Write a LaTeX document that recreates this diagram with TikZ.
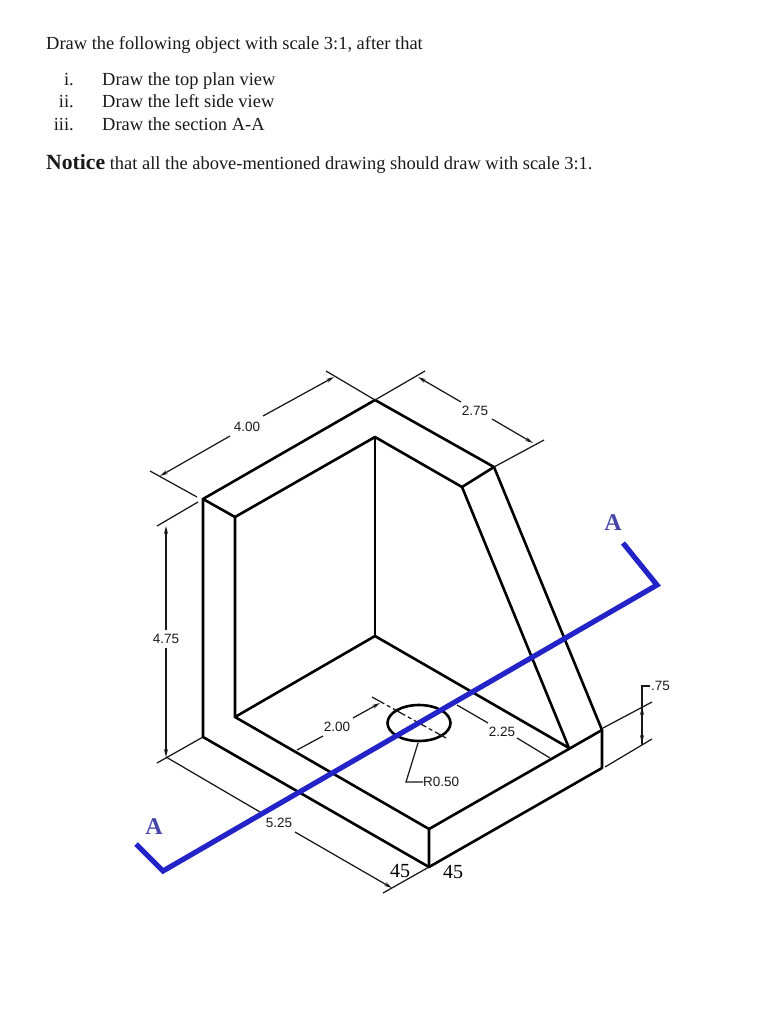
\documentclass[tikz,border=0pt]{standalone}
\usepackage{fontspec}
\setmainfont{Liberation Serif}
\setsansfont{Liberation Sans}
\usetikzlibrary{arrows.meta}
\tikzset{
 obj/.style={line width=2.6pt,black,line join=round,line cap=round},
 dimln/.style={line width=1.25pt,black!90},
 dimarr/.style={dimln,-{Stealth[length=8pt,width=4pt]}},
 dimtext/.style={font=\sffamily\fontsize{13.5}{15}\selectfont,inner sep=0pt,text=black!90},
 doc/.style={font=\fontsize{18.45}{22}\selectfont,anchor=base west,inner sep=0pt,text=black!90},
 cutline/.style={line width=5.2pt,color=cutblue,line join=miter},
 cutlabel/.style={font=\bfseries\fontsize{24}{26}\selectfont,text=cutlabelc,inner sep=0pt}
}
\definecolor{cutblue}{RGB}{35,35,200}
\definecolor{cutlabelc}{RGB}{70,70,170}
\begin{document}
\begin{tikzpicture}[x=1pt,y=-1pt]
\useasboundingbox (0,0) rectangle (779,1024);
% header text
\node[doc] (h1) at (46,50) {Draw the following object with scale 3:1, after that};
\node[doc,anchor=base east] (n1) at (74,85.5) {i.};
\node[doc] (t1) at (102,85.5) {Draw the top plan view};
\node[doc,anchor=base east] (n2) at (74,107.5) {ii.};
\node[doc] (t2) at (102,107.5) {Draw the left side view};
\node[doc,anchor=base east] (n3) at (74,130.5) {iii.};
\node[doc] (t3) at (102,130.5) {Draw the section A-A};
\node[doc] (h2) at (46,170) {\fontsize{21.7}{24}\selectfont\bfseries Notice\fontsize{18.45}{22}\selectfont\mdseries\ that all the above-mentioned drawing should draw with scale 3:1.};
% object points
\coordinate (T) at (375,400);
\coordinate (L) at (203,499);
\coordinate (R) at (494,467);
\coordinate (I) at (375,437);
\coordinate (IL) at (235,517);
\coordinate (IR) at (462,487);
\coordinate (B) at (375,636);
\coordinate (LB) at (203,737);
\coordinate (ILB) at (235,717);
\coordinate (FT) at (429,829);
\coordinate (FB) at (429,867);
\coordinate (RT) at (602,730);
\coordinate (RB) at (602,768);
\coordinate (F) at (569,748);
\draw[obj] (L)--(T)--(R)--(RT)--(RB)--(FB)--(LB)--cycle;
\draw[obj] (L)--(IL)--(I)--(IR)--(R);
\draw[obj] (IR)--(F);
\draw[obj] (I)--(B);
\draw[obj] (IL)--(ILB)--(FT)--(FB);
\draw[obj] (FT)--(RT);
\draw[obj] (ILB)--(B)--(F);
% hole
\draw[line width=2.6pt] (419,723) ellipse [x radius=31.5,y radius=18];
\draw[dimln,dash pattern=on 14pt off 3pt on 4pt off 3pt] (372,697)--(446,738);
% dimensions
\coordinate (e1) at (150,471); \coordinate (e2) at (197,497);
\draw[dimln] (e1)--(e2);
\draw[dimln] (326,371)--(T);
\draw[dimln] (T)--(425,371);
\draw[dimln] (R)--(544,440);
\draw[dimln] (198,502)--(157,526);
\draw[dimln] (LB)--(157,763);
\draw[dimln] (FB)--(383,893);
\draw[dimln] (603,728)--(652,702);
\draw[dimln] (605,767)--(652,739);
\node[dimtext] (d400) at (247,427) {4.00};
\draw[dimarr] (230,436)--(160,476);
\draw[dimarr] (263,416)--(334,377);
\node[dimtext] (d275) at (475,411) {2.75};
\draw[dimarr] (461,402)--(418,377);
\draw[dimarr] (492,419)--(533,443);
\node[dimtext] (d475) at (166,639) {4.75};
\draw[dimarr] (166,630)--(166,526);
\draw[dimarr] (166,648)--(166,757);
\node[dimtext] (d525) at (279,823) {5.25};
\draw[dimln] (166,757)--(260,812);
\draw[dimarr] (295,832)--(392,888);
\node[dimtext] (d200) at (337,727) {2.00};
\draw[dimln] (297,750)--(323,736);
\draw[dimarr] (353,718)--(380,703);
\node[dimtext] (d225) at (502,732) {2.25};
\draw[dimln] (457,705)--(488,723);
\draw[dimln] (517,738)--(550,758);
\node[dimtext,anchor=west] (d75) at (651,686) {.75};
\draw[dimln] (650,686)--(642,686)--(642,745);
\draw[dimarr] (642,725)--(642,707);
\draw[dimarr] (642,725)--(642,743);
\node[dimtext,anchor=west] (dr) at (423,782) {R0.50};
\draw[dimln] (418,743)--(406,782)--(dr.west);
% section line
\coordinate (A1) at (136,844); \coordinate (A2) at (163,871);
\coordinate (A3) at (657,585); \coordinate (A4) at (623,543);
\draw[cutline] (A1)--(A2)--(A3)--(A4);
\node[cutlabel] (la) at (154,827) {A};
\node[cutlabel] (lb) at (613,523) {A};
\node[font=\fontsize{20}{22}\selectfont,inner sep=0pt] (a45) at (400,871) {45};
\node[font=\fontsize{20}{22}\selectfont,inner sep=0pt] (b45) at (453,872) {45};
\end{tikzpicture}
\end{document}
